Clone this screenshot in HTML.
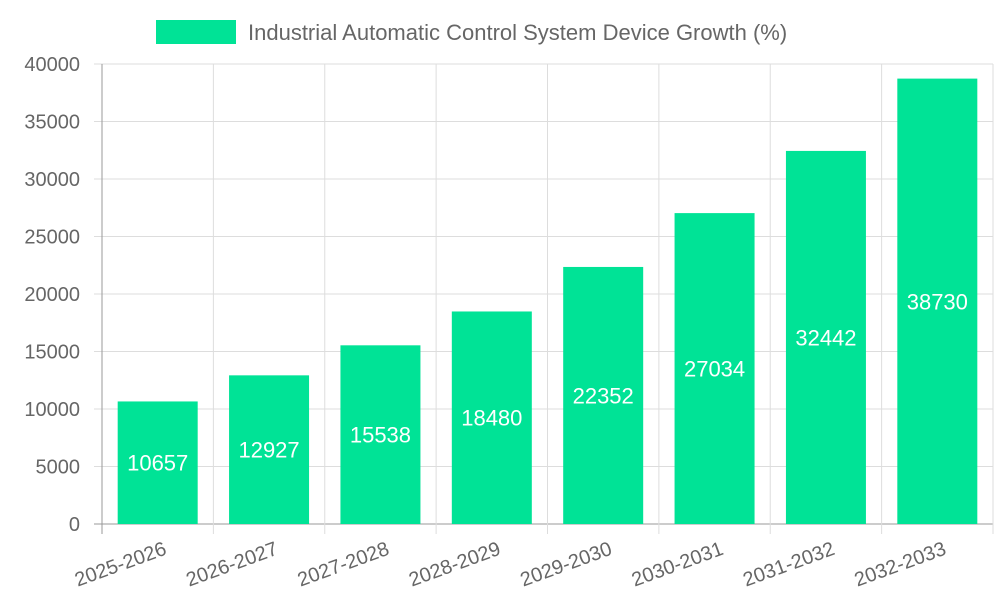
<!DOCTYPE html>
<html><head><meta charset="utf-8"><style>
body{margin:0;background:#fff;}
svg text{font-family:"Liberation Sans",sans-serif;}
</style></head><body>
<svg id="chart" width="1000" height="600" xmlns="http://www.w3.org/2000/svg">
<g id="legend">
<rect x="156" y="20" width="80" height="24" fill="#00E396"/>
<text x="248" y="40" font-size="22" fill="#666">Industrial Automatic Control System Device Growth (%)</text>
</g>
<g id="grid"></g><g id="bars"></g><g id="labels"></g>
</svg>
<script>
const categories=["2025-2026","2026-2027","2027-2028","2028-2029","2029-2030","2030-2031","2031-2032","2032-2033"];
const values=[10657,12927,15538,18480,22352,27034,32442,38730];
const yTicks=[0,5000,10000,15000,20000,25000,30000,35000,40000];
const NS="http://www.w3.org/2000/svg";
const L=102,R=993,T=64,B=524,yMax=40000;
const step=(R-L)/categories.length,bw=80;
const y=v=>B-(v/yMax)*(B-T);
const xc=i=>L+step*(i+0.5);
function mk(tag,attrs,parent){const e=document.createElementNS(NS,tag);for(const k in attrs)e.setAttribute(k,attrs[k]);parent.appendChild(e);return e;}
const grid=document.getElementById('grid'),bars=document.getElementById('bars'),labels=document.getElementById('labels');
yTicks.forEach(t=>{
 const l=mk('line',{x1:L-8,x2:R,y1:y(t),y2:y(t),stroke:t===0?'#999':'#ddd','stroke-width':1},grid);
 
 
 const tx=mk('text',{x:80,y:y(t)+7,'text-anchor':'end','font-size':20,fill:'#666'},grid);
 tx.textContent=t;
 
 
});
for(let i=0;i<=categories.length;i++){
 const x=L+step*i;
 const l=mk('line',{x1:x,x2:x,y1:T,y2:B+10,stroke:i===0?'#999':'#ddd','stroke-width':1},grid);
 
 
}
categories.forEach((c,i)=>{
 const v=values[i];
 const r=mk('rect',{x:xc(i)-bw/2,y:y(v),width:bw,height:B-y(v),fill:'#00E396'},bars);
 
 
 const vt=mk('text',{x:xc(i),y:(y(v)+B)/2+8,'text-anchor':'middle','font-size':22,fill:'#fff'},labels);
 vt.textContent=v;
 
 
 const xt=mk('text',{x:0,y:0,'text-anchor':'end','font-size':20,fill:'#666',transform:`translate(${xc(i)+10},${B+30}) rotate(-20)`},labels);
 xt.textContent=c;
 
 
});
</script>
</body></html>
